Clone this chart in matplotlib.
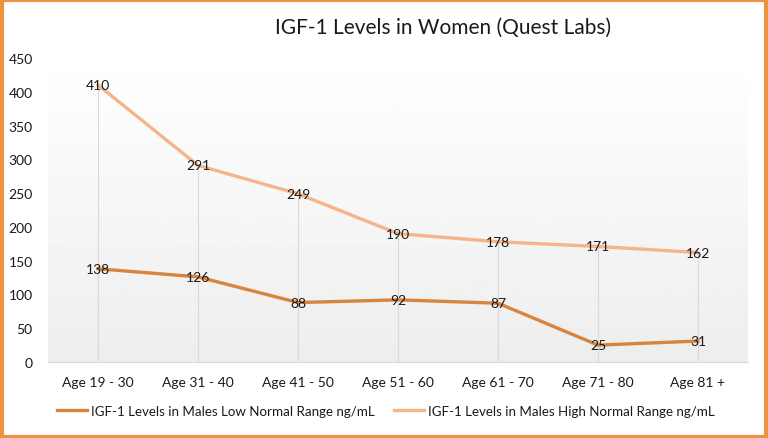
import numpy as np
import matplotlib as mpl
import matplotlib.pyplot as plt
from matplotlib.patches import Rectangle
mpl.use("agg")

plt.rcParams['font.family'] = ['Lato', 'DejaVu Sans']

ages = ['Age 19 - 30', 'Age 31 - 40', 'Age 41 - 50', 'Age 51 - 60',
        'Age 61 - 70', 'Age 71 - 80', 'Age 81 +']
low_vals = [138, 126, 88, 92, 87, 25, 31]
high_vals = [410, 291, 249, 190, 178, 171, 162]
low_name = 'IGF-1 Levels in Males Low Normal Range ng/mL'
high_name = 'IGF-1 Levels in Males High Normal Range ng/mL'
yticks = [0, 50, 100, 150, 200, 250, 300, 350, 400, 450]

low_col = '#D8843F'
high_col = '#F5B48A'
text_col = '#1A1A1A'

fig = plt.figure(figsize=(7.68, 4.39), dpi=100)
ax = fig.add_axes([48 / 768, 76 / 439, 700 / 768, 304 / 439])

x = np.arange(len(ages))

# gradient backdrop in plot area
grad = np.linspace(0.93, 1.0, 256).reshape(-1, 1)
ax.imshow(grad, cmap='gray', vmin=0, vmax=1, aspect='auto',
          extent=(-0.5, len(ages) - 0.5, 0, 450), origin='lower', zorder=0)

# drop lines from the high series
ax.vlines(x, 0, high_vals, color='#D9D9D9', linewidth=0.8, zorder=1)

ax.plot(x, low_vals, color=low_col, linewidth=2.4, label=low_name, zorder=3)
ax.plot(x, high_vals, color=high_col, linewidth=2.4, label=high_name, zorder=3)

for xi, v in zip(x, low_vals):
    ax.text(xi, v, str(v), ha='center', va='center', fontsize=10,
            color=text_col, zorder=4)
for xi, v in zip(x, high_vals):
    ax.text(xi, v, str(v), ha='center', va='center', fontsize=10,
            color=text_col, zorder=4)

ax.set_xlim(-0.5, len(ages) - 0.5)
ax.set_ylim(0, 450)
ax.set_xticks(x)
ax.set_xticklabels(ages, fontsize=10, color=text_col)
ax.set_yticks(yticks)
ax.set_yticklabels([str(t) for t in yticks], fontsize=10, color=text_col)
ax.tick_params(axis='both', length=0)
ax.tick_params(axis='y', pad=11)
ax.tick_params(axis='x', pad=10)
for s in ['top', 'right', 'left']:
    ax.spines[s].set_visible(False)
ax.spines['bottom'].set_color('#D9D9D9')
ax.spines['bottom'].set_linewidth(0.8)

fig.text(443 / 768, 1 - 28 / 439, 'IGF-1 Levels in Women (Quest Labs)',
         ha='center', va='center', fontsize=15, color=text_col)

leg = fig.legend(loc='center', bbox_to_anchor=(386 / 768, 1 - 412 / 439),
                 ncol=2, frameon=False, fontsize=9.6, handlelength=2.25,
                 handletextpad=0.3, columnspacing=1.5)
for t in leg.get_texts():
    t.set_color(text_col)

# orange frame around the figure
fig.patches.append(Rectangle((0.002, 0.003), 0.995, 0.994, transform=fig.transFigure,
                             fill=False, edgecolor='#F0913F', linewidth=3))

fig.savefig('out.png', dpi=100)
